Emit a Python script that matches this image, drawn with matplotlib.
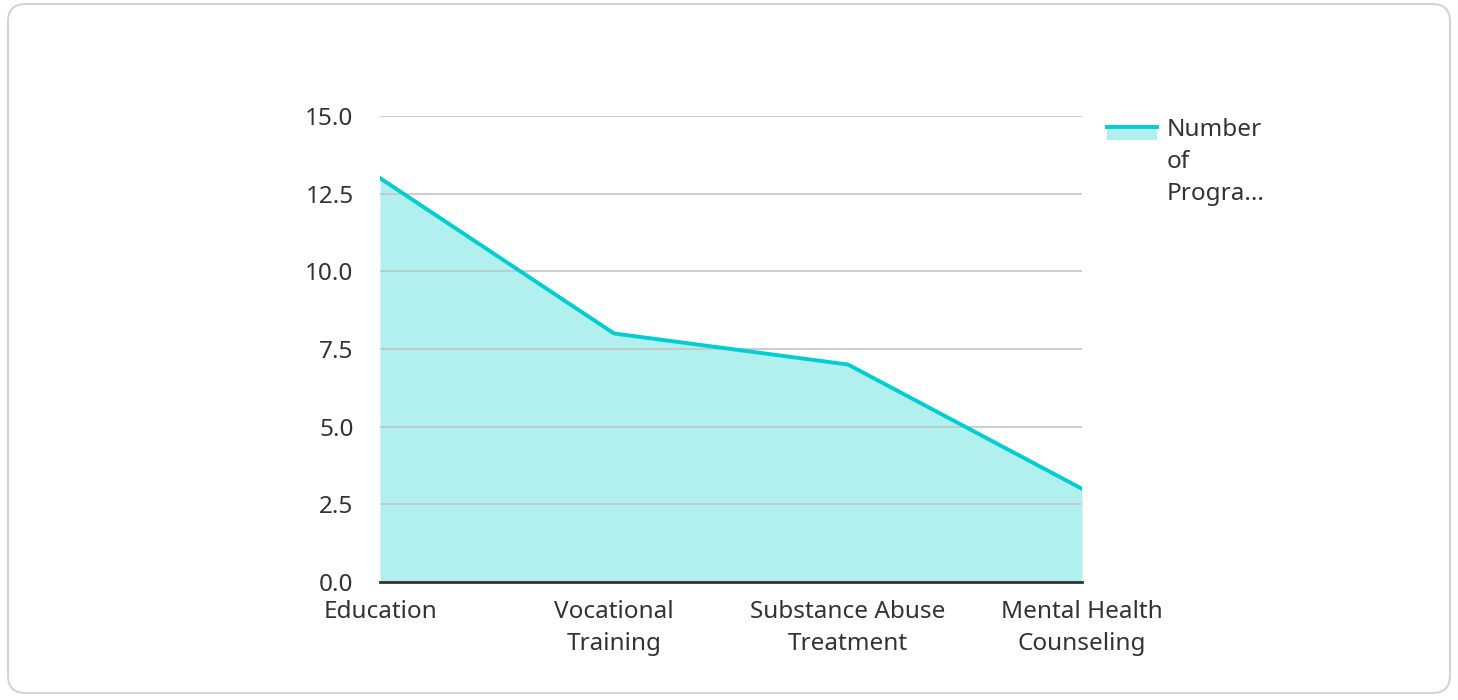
import matplotlib.pyplot as plt
from matplotlib.patches import FancyBboxPatch, Rectangle
from matplotlib.lines import Line2D

plt.rcParams['font.family'] = ['Noto Sans', 'DejaVu Sans']

categories = ["Education", "Vocational\nTraining", "Substance Abuse\nTreatment", "Mental Health\nCounseling"]
values = [13, 8, 7, 3]
series_name = "Number\nof\nProgra..."
yticks = [0.0, 2.5, 5.0, 7.5, 10.0, 12.5, 15.0]

line_color = "#00CED1"
fill_color = "#B2EFEF"
text_color = "#333333"
fs = 17.5

W, H = 1458, 700
fig = plt.figure(figsize=(W / 100, H / 100), dpi=100)

# card background with rounded border
card = FancyBboxPatch((8 / W, 7 / H), 1442 / W, 689 / H,
                      boxstyle="round,pad=0,rounding_size=0.012",
                      transform=fig.transFigure, facecolor="white",
                      edgecolor="#d4d4d4", linewidth=1.5, mutation_aspect=W / H,
                      zorder=-5)
fig.patches.append(card)

ax = fig.add_axes([380 / W, 1 - 582 / H, (1082 - 380) / W, (582 - 116) / H])
ax.set_facecolor("none")

x = list(range(len(categories)))
ax.fill_between(x, values, 0, color=fill_color, linewidth=0, zorder=1)
ax.plot(x, values, color=line_color, linewidth=2.8, zorder=3)

ax.set_xlim(0, len(categories) - 1)
ax.set_ylim(0, 15)
ax.set_yticks(yticks)
ax.set_yticklabels([f"{v:.1f}" for v in yticks])
ax.set_xticks(x)
ax.set_xticklabels(categories, linespacing=1.45)
ax.grid(axis="y", color="#c4c4c4", linewidth=1.2, zorder=2)

for s in ["top", "right", "left"]:
    ax.spines[s].set_visible(False)
ax.spines["bottom"].set_color("#333333")
ax.spines["bottom"].set_linewidth(2)
ax.spines["bottom"].set_zorder(4)

ax.tick_params(axis="both", length=0, labelsize=fs, colors=text_color)
ax.tick_params(axis="y", pad=19)
ax.tick_params(axis="x", pad=13)

# legend drawn by hand: swatch + line, label to the right
fig.patches.append(Rectangle((1107 / W, 1 - 140 / H), 50 / W, 15 / H,
                             transform=fig.transFigure, facecolor=fill_color,
                             edgecolor="none"))
fig.lines.append(Line2D([1107 / W, 1157 / W], [1 - 127 / H, 1 - 127 / H],
                        transform=fig.transFigure, color=line_color, linewidth=2.8))
fig.text(1167 / W, 1 - 118 / H, series_name, fontsize=fs, color=text_color,
         ha="left", va="top", linespacing=1.45)

fig.savefig("out.png", dpi=100)
